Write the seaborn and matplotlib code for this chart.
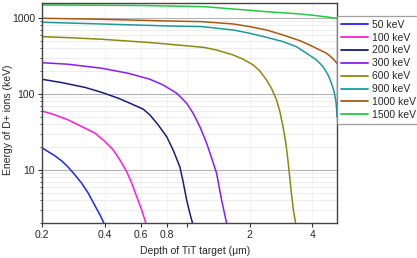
"""
Energy loss of D+ ions in a TiT target, one curve per beam energy.
"""

import matplotlib
matplotlib.use("Agg")
import matplotlib.pyplot as plt
import matplotlib.ticker as mticker
import pandas as pd
import seaborn as sns

# ─────────────────────────────────────────────────────────────
# DATA
# ─────────────────────────────────────────────────────────────
BEAMS = ["50 keV", "100 keV", "200 keV", "300 keV",
         "600 keV", "900 keV", "1000 keV", "1500 keV"]

depth_50 = [0.2, 0.214, 0.231, 0.249, 0.267, 0.288, 0.31, 0.334, 0.36,
            0.38, 0.397]
energy_50 = [19.6, 17.4, 15.3, 13.1, 10.9, 8.6, 6.7, 4.93, 3.36, 2.56, 2.0]

depth_100 = [0.2, 0.231, 0.267, 0.31, 0.36, 0.402, 0.44, 0.474, 0.511,
             0.54, 0.571, 0.603, 0.632]
energy_100 = [59.7, 52.9, 45.5, 37.2, 30.4, 23.6, 18.3, 13.5, 9.5, 6.7,
              4.46, 2.98, 2.0]

depth_200 = [0.2, 0.249, 0.322, 0.387, 0.465, 0.54, 0.614, 0.661, 0.725,
             0.796, 0.855, 0.921, 0.955, 0.993, 1.029, 1.06]
energy_200 = [156, 141, 122, 105, 88, 73.8, 63, 53, 39, 27.4, 18.3, 11,
              7.0, 4.03, 2.69, 2.0]

depth_300 = [0.2, 0.267, 0.387, 0.52, 0.661, 0.766, 0.89, 0.993, 1.067,
             1.15, 1.239, 1.31, 1.384, 1.462, 1.546]
energy_300 = [258, 246, 218, 187, 156, 131, 102, 75.5, 55.7, 37, 22.5,
              14.3, 9.05, 4.03, 2.0]

depth_600 = [0.2, 0.267, 0.387, 0.673, 0.974, 1.2, 1.384, 1.663, 1.858,
             2.075, 2.233, 2.405, 2.54, 2.69, 2.79, 2.89, 2.98, 3.05,
             3.11, 3.17, 3.24, 3.32]
energy_600 = [567, 551, 525, 473, 432, 410, 379, 326, 286, 241, 201, 153,
              119, 83, 58.5, 37, 22.5, 13.5, 8.2, 4.9, 3.0, 2.0]

depth_900 = [0.2, 0.387, 0.81, 1.18, 1.663, 2.0, 2.405, 2.89, 3.35, 3.75,
             4.19, 4.5, 4.76, 4.94, 5.09, 5.18, 5.23, 5.25]
energy_900 = [878, 834, 785, 769, 695, 629, 557, 488, 419, 343, 280, 229,
              178, 138, 107, 83, 65, 50]

depth_1000 = [0.2, 0.387, 0.81, 1.18, 1.663, 2.0, 2.405, 2.89, 3.48, 3.88,
              4.34, 4.68, 4.94, 5.12, 5.25]
energy_1000 = [991, 961, 913, 894, 834, 769, 695, 597, 503, 441, 379, 343,
               304, 274, 254]

depth_1500 = [0.2, 0.6, 1.216, 1.663, 2.405, 3.48, 4.19, 5.25]
energy_1500 = [1483, 1460, 1408, 1313, 1211, 1129, 1072, 991]

X_TICKS = [0.2, 0.4, 0.6, 0.8, 1, 2, 4]
X_TICK_LABELS = ["0.2", "0.4", "0.6", "0.8", "", "2", "4"]
Y_TICKS = [10, 100, 1000]

COLOURS = ["#2424f0", "#ff1adf", "#1c1c7a", "#8a1cf5",
           "#8a8a10", "#20989c", "#a85a10", "#22c840"]

# ─────────────────────────────────────────────────────────────
# BUILD LONG TABLE
# ─────────────────────────────────────────────────────────────
series = [
    (depth_50, energy_50), (depth_100, energy_100),
    (depth_200, energy_200), (depth_300, energy_300),
    (depth_600, energy_600), (depth_900, energy_900),
    (depth_1000, energy_1000), (depth_1500, energy_1500),
]
frames = []
for beam, (d, e) in zip(BEAMS, series):
    frames.append(pd.DataFrame({"depth": d, "energy": e, "beam": beam}))
df = pd.concat(frames, ignore_index=True)

# ─────────────────────────────────────────────────────────────
# PLOT
# ─────────────────────────────────────────────────────────────
sns.set_style("white")
plt.rcParams["font.family"] = ["Liberation Sans", "DejaVu Sans"]
plt.rcParams["font.size"] = 7.5

fig = plt.figure(figsize=(4.17, 2.58), dpi=100)
ax = fig.add_axes([0.1007, 0.1357, 0.7073, 0.8527])

sns.lineplot(data=df, x="depth", y="energy", hue="beam",
             hue_order=BEAMS, palette=COLOURS, estimator=None,
             sort=False, linewidth=1.1, ax=ax)

ax.set_xscale("log")
ax.set_yscale("log")
ax.set_xlim(0.2, 5.25)
ax.set_ylim(2, 1575)

ax.set_xticks(X_TICKS)
ax.set_xticklabels(X_TICK_LABELS)
ax.xaxis.set_minor_locator(mticker.NullLocator())
ax.set_yticks(Y_TICKS)
ax.yaxis.set_major_formatter(mticker.FormatStrFormatter("%d"))
ax.yaxis.set_minor_locator(mticker.LogLocator(base=10, subs=range(2, 10)))
ax.yaxis.set_minor_formatter(mticker.NullFormatter())

ax.tick_params(axis="both", which="major", direction="out", length=3,
               width=0.8, color="#333333", labelsize=7.5, pad=2,
               left=True, bottom=True)
ax.tick_params(axis="y", which="minor", direction="out", length=1.8,
               width=0.6, color="#333333", left=True)

# grid: strong major y, faint minor y, faint vertical
ax.grid(axis="y", which="major", color="#b4b4b4", linewidth=0.8)
ax.grid(axis="y", which="minor", color="#e6e6e6", linewidth=0.5)
ax.grid(axis="x", which="major", color="#efefef", linewidth=0.5)
ax.set_axisbelow(True)

for side in ["top", "right", "bottom", "left"]:
    ax.spines[side].set_visible(True)
    ax.spines[side].set_color("#444444")
    ax.spines[side].set_linewidth(1.0)

ax.set_xlabel("Depth of TiT target (\u03bcm)", fontsize=7.5)
ax.set_ylabel("Energy of D+ ions (keV)", fontsize=7.5)
ax.xaxis.set_label_coords(0.52, -0.105)
ax.yaxis.set_label_coords(-0.097, 0.47)

sns.move_legend(ax, "upper left", bbox_to_anchor=(1.0, 0.941),
                borderaxespad=0, title=None, frameon=True,
                fancybox=False, fontsize=7.5, handlelength=2.6,
                handletextpad=0.4, labelspacing=0.28,
                borderpad=0.35, edgecolor="#888888")
leg = ax.get_legend()
leg.get_frame().set_linewidth(0.9)
for line in leg.get_lines():
    line.set_linewidth(1.3)

fig.savefig("out.png", dpi=100)
plt.close(fig)
